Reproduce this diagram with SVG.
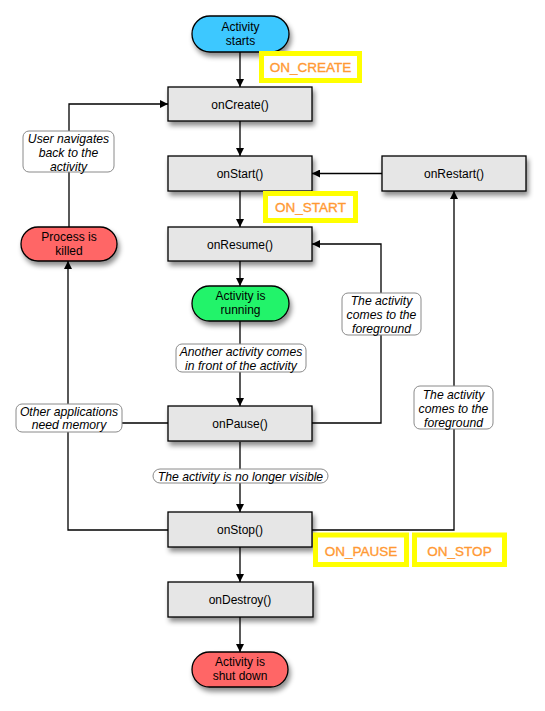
<svg xmlns="http://www.w3.org/2000/svg" width="545" height="711" viewBox="0 0 545 711">
<style>
.bg{fill:#ffffff}
.box{fill:#e6e6e6;stroke:#000;stroke-width:1.3}
.pill{stroke:#000;stroke-width:1.3}
.t{font-family:"Liberation Sans",Arial,sans-serif;font-size:12px;fill:#000;text-anchor:middle}
.lbl{fill:#fff;stroke:#8a8a8a;stroke-width:1}
.lt{font-family:"Liberation Sans",Arial,sans-serif;font-size:12.2px;font-style:italic;fill:#000;text-anchor:middle}
.tag{fill:#fff;stroke:#ffff00;stroke-width:5}
.tt{font-family:"Liberation Sans",Arial,sans-serif;font-size:13.5px;fill:#ff9933;stroke:#ff9933;stroke-width:0.35;text-anchor:middle}
.c{fill:none;stroke:#000;stroke-width:1.3}
</style>
<defs>
<marker id="ah" viewBox="0 0 10 10" refX="10" refY="5" markerWidth="8" markerHeight="8" markerUnits="userSpaceOnUse" orient="auto">
<path d="M0,0 L10,5 L0,10 z" fill="#000"/>
</marker>
<filter id="sh" x="-20%" y="-20%" width="150%" height="170%">
<feDropShadow dx="2" dy="4" stdDeviation="2.5" flood-color="#000" flood-opacity="0.45"/>
</filter>
</defs>
<rect class="bg" x="0" y="0" width="545" height="711"/>

<g id="connectors">
<path class="c" d="M240,52 V87" marker-end="url(#ah)"/>
<path class="c" d="M240,121 V156" marker-end="url(#ah)"/>
<path class="c" d="M240,191 V227" marker-end="url(#ah)"/>
<path class="c" d="M240,261 V286" marker-end="url(#ah)"/>
<path class="c" d="M240,321 V406" marker-end="url(#ah)"/>
<path class="c" d="M240,442 V512" marker-end="url(#ah)"/>
<path class="c" d="M240,547 V582" marker-end="url(#ah)"/>
<path class="c" d="M240,617 V652" marker-end="url(#ah)"/>
<path class="c" d="M382,173.5 H312" marker-end="url(#ah)"/>
<path class="c" d="M312,423 H381 V244 H312" marker-end="url(#ah)"/>
<path class="c" d="M312,530 H454 V191" marker-end="url(#ah)"/>
<path class="c" d="M168,423 H68 V261" marker-end="url(#ah)"/>
<path class="c" d="M168,530 H68 V423"/>
<path class="c" d="M69,227 V104 H168" marker-end="url(#ah)"/>
</g>

<g id="lbl-user-navigates">
<rect class="lbl" x="23" y="131" width="91" height="41" rx="6"/>
<text class="lt" x="68.5" y="142.5">User navigates</text>
<text class="lt" x="68.5" y="156.5">back to the</text>
<text class="lt" x="68.5" y="170.5">activity</text>
</g>
<g id="lbl-another">
<rect class="lbl" x="176" y="344" width="130" height="28" rx="6"/>
<text class="lt" x="241" y="356">Another activity comes</text>
<text class="lt" x="241" y="369.5">in front of the activity</text>
</g>
<g id="lbl-foreground1">
<rect class="lbl" x="342" y="293" width="79" height="42" rx="6"/>
<text class="lt" x="381.5" y="305">The activity</text>
<text class="lt" x="381.5" y="319">comes to the</text>
<text class="lt" x="381.5" y="333">foreground</text>
</g>
<g id="lbl-foreground2">
<rect class="lbl" x="414" y="386" width="79" height="43" rx="6"/>
<text class="lt" x="453.5" y="398.5">The activity</text>
<text class="lt" x="453.5" y="412.5">comes to the</text>
<text class="lt" x="453.5" y="426.5">foreground</text>
</g>
<g id="lbl-memory">
<rect class="lbl" x="16" y="404" width="106" height="28" rx="6"/>
<text class="lt" x="69" y="415.5">Other applications</text>
<text class="lt" x="69" y="429">need memory</text>
</g>
<g id="lbl-novisible">
<rect class="lbl" x="153" y="469" width="175" height="14" rx="7"/>
<text class="lt" x="240.5" y="480.5">The activity is no longer visible</text>
</g>

<g id="activity-starts">
<rect class="pill" x="192" y="16" width="97" height="36" rx="18" fill="#3dc8ff" filter="url(#sh)"/>
<text class="t" x="240.5" y="31">Activity</text>
<text class="t" x="240.5" y="45">starts</text>
</g>
<g id="onCreate">
<rect class="box" x="168" y="87" width="144" height="34" filter="url(#sh)"/>
<text class="t" x="240" y="108.5">onCreate()</text>
</g>
<g id="onStart">
<rect class="box" x="168" y="156" width="144" height="35" filter="url(#sh)"/>
<text class="t" x="240" y="178">onStart()</text>
</g>
<g id="onRestart">
<rect class="box" x="382" y="156" width="144" height="35" filter="url(#sh)"/>
<text class="t" x="454" y="178">onRestart()</text>
</g>
<g id="onResume">
<rect class="box" x="168" y="227" width="144" height="34" filter="url(#sh)"/>
<text class="t" x="240" y="248.5">onResume()</text>
</g>
<g id="process-killed">
<rect class="pill" x="21" y="227" width="96" height="34" rx="17" fill="#ff6666" filter="url(#sh)"/>
<text class="t" x="69" y="241">Process is</text>
<text class="t" x="69" y="255">killed</text>
</g>
<g id="activity-running">
<rect class="pill" x="192" y="286" width="97" height="35" rx="17.5" fill="#22f36a" filter="url(#sh)"/>
<text class="t" x="240.5" y="300">Activity is</text>
<text class="t" x="240.5" y="314">running</text>
</g>
<g id="onPause">
<rect class="box" x="168" y="406" width="144" height="35" filter="url(#sh)"/>
<text class="t" x="240" y="428">onPause()</text>
</g>
<g id="onStop">
<rect class="box" x="168" y="512" width="144" height="35" filter="url(#sh)"/>
<text class="t" x="240" y="534">onStop()</text>
</g>
<g id="onDestroy">
<rect class="box" x="168" y="582" width="145" height="35" filter="url(#sh)"/>
<text class="t" x="240" y="604">onDestroy()</text>
</g>
<g id="activity-shutdown">
<rect class="pill" x="192" y="652" width="96" height="35" rx="17.5" fill="#ff6666" filter="url(#sh)"/>
<text class="t" x="240" y="666">Activity is</text>
<text class="t" x="240" y="680">shut down</text>
</g>

<g id="tag-on-create">
<rect class="tag" x="261.5" y="53.5" width="98" height="27"/>
<text class="tt" x="310.5" y="71.5">ON_CREATE</text>
</g>
<g id="tag-on-start">
<rect class="tag" x="265.5" y="193.5" width="90" height="27"/>
<text class="tt" x="310.5" y="211.5">ON_START</text>
</g>
<g id="tag-on-pause">
<rect class="tag" x="315.5" y="535" width="91" height="29.5"/>
<text class="tt" x="361" y="555.5">ON_PAUSE</text>
</g>
<g id="tag-on-stop">
<rect class="tag" x="414.5" y="535" width="90" height="29.5"/>
<text class="tt" x="459.5" y="555.5">ON_STOP</text>
</g>
</svg>
